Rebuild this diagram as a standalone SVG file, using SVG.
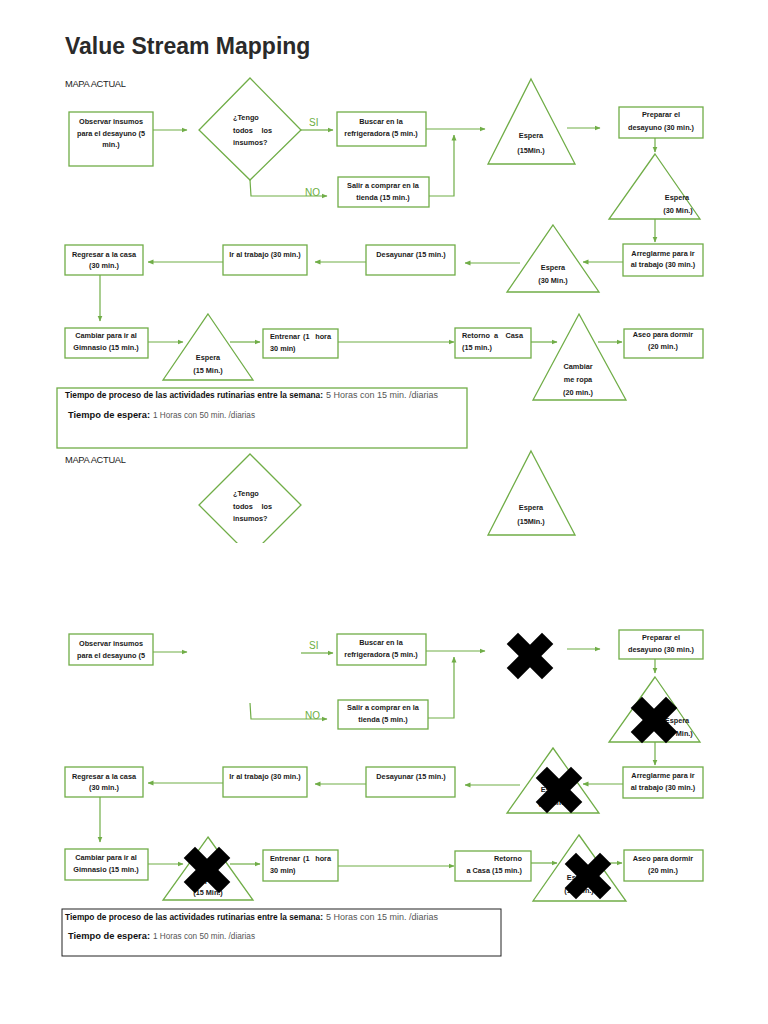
<svg xmlns="http://www.w3.org/2000/svg" width="768" height="1024" viewBox="0 0 768 1024">
<style>
.bg{fill:#fff}
.n{fill:#fff;stroke:#70AD47;stroke-width:1.3}
.c{fill:none;stroke:#70AD47;stroke-width:1.2}
.t{font-family:"Liberation Sans",Arial,sans-serif;font-size:7.3px;font-weight:bold;fill:#1a1a1a}
.m{text-anchor:middle}
.e{text-anchor:end}
.lbl{font-family:"Liberation Sans",Arial,sans-serif;font-size:10px;fill:#6aae3e}
.title{font-family:"Liberation Sans",Arial,sans-serif;font-size:23px;font-weight:bold;fill:#2a2a2a}
.h{font-family:"Liberation Sans",Arial,sans-serif;font-size:9.3px;fill:#222;letter-spacing:-0.3px}
.sb{font-family:"Liberation Sans",Arial,sans-serif;font-size:8.5px;font-weight:bold;fill:#111}
.sr{font-family:"Liberation Sans",Arial,sans-serif;font-size:8.5px;fill:#555}
</style>
<defs>
<marker id="ah" markerWidth="6" markerHeight="6" refX="5.5" refY="3" orient="auto" markerUnits="userSpaceOnUse">
<path d="M0,0.5 L6,3 L0,5.5 z" fill="#70AD47"/>
</marker>
<g id="xmark">
<rect x="-25" y="-8" width="50" height="16" transform="rotate(45)" fill="#000"/>
<rect x="-25" y="-8" width="50" height="16" transform="rotate(-45)" fill="#000"/>
</g>
<clipPath id="cut"><rect x="0" y="440" width="768" height="103"/></clipPath>
</defs>
<rect class="bg" x="0" y="0" width="768" height="1024"/>

<text class="title" x="65" y="54">Value Stream Mapping</text>
<text class="h" x="65" y="87">MAPA ACTUAL</text>

<!-- ===== TOP MAP ===== -->
<g id="connectors-top">
<line class="c" x1="153" y1="130" x2="187" y2="130" marker-end="url(#ah)"/>
<line class="c" x1="301" y1="130" x2="333" y2="130" marker-end="url(#ah)"/>
<polyline class="c" points="250,180 251,196 327,196" marker-end="url(#ah)"/>
<line class="c" x1="426" y1="129" x2="485" y2="129" marker-end="url(#ah)"/>
<polyline class="c" points="429,196 454,196 454,135" marker-end="url(#ah)"/>
<line class="c" x1="567" y1="128" x2="600" y2="128" marker-end="url(#ah)"/>
<line class="c" x1="655" y1="138" x2="655" y2="152" marker-end="url(#ah)"/>
<line class="c" x1="655" y1="219" x2="655" y2="242" marker-end="url(#ah)"/>
<line class="c" x1="623" y1="262" x2="583" y2="262" marker-end="url(#ah)"/>
<line class="c" x1="520" y1="263" x2="465" y2="263" marker-end="url(#ah)"/>
<line class="c" x1="366" y1="262" x2="315" y2="262" marker-end="url(#ah)"/>
<line class="c" x1="223" y1="262" x2="148" y2="262" marker-end="url(#ah)"/>
<line class="c" x1="100" y1="275" x2="100" y2="321" marker-end="url(#ah)"/>
<line class="c" x1="148" y1="342" x2="183" y2="342" marker-end="url(#ah)"/>
<line class="c" x1="230" y1="342" x2="260" y2="342" marker-end="url(#ah)"/>
<line class="c" x1="338" y1="342" x2="454" y2="342" marker-end="url(#ah)"/>
<line class="c" x1="531" y1="342" x2="557" y2="342" marker-end="url(#ah)"/>
<line class="c" x1="598" y1="342" x2="622" y2="342" marker-end="url(#ah)"/>
<text class="lbl" x="309" y="126">SI</text>
<text class="lbl" x="305" y="196">NO</text>
</g>

<g id="observar">
<rect class="n" x="69" y="112" width="84" height="54"/>
<text class="t m" x="111" y="124">Observar insumos</text>
<text class="t m" x="111" y="136">para el desayuno (5</text>
<text class="t m" x="111" y="147">min.)</text>
</g>
<g id="tengo">
<polygon class="n" points="250,78 301,130 250,180 199,130"/>
<text class="t" x="233" y="120">¿Tengo</text>
<text class="t" x="233" y="133">todos</text>
<text class="t e" x="272" y="133">los</text>
<text class="t" x="233" y="145">insumos?</text>
</g>
<g id="buscar">
<rect class="n" x="337" y="112" width="89" height="34"/>
<text class="t m" x="381" y="124">Buscar en la</text>
<text class="t m" x="381" y="136">refrigeradora (5 min.)</text>
</g>
<g id="salir">
<rect class="n" x="338" y="177" width="91" height="30"/>
<text class="t m" x="383" y="188">Salir a comprar en la</text>
<text class="t m" x="383" y="200">tienda (15 min.)</text>
</g>
<g id="espera1">
<polygon class="n" points="531,79 575,164 488,164"/>
<text class="t m" x="531" y="138">Espera</text>
<text class="t m" x="531" y="153">(15Min.)</text>
</g>
<g id="preparar">
<rect class="n" x="619" y="107" width="84" height="31"/>
<text class="t m" x="661" y="117">Preparar el</text>
<text class="t m" x="661" y="130">desayuno (30 min.)</text>
</g>
<g id="espera2">
<polygon class="n" points="655,154 700,219 609,219"/>
<text class="t m" x="677" y="200">Espera</text>
<text class="t m" x="678" y="213">(30 Min.)</text>
</g>
<g id="arreglarme">
<rect class="n" x="623" y="244" width="80" height="32"/>
<text class="t m" x="663" y="256">Arreglarme para ir</text>
<text class="t m" x="663" y="267">al trabajo (30 min.)</text>
</g>
<g id="espera3">
<polygon class="n" points="553,225 599,292 507,292"/>
<text class="t m" x="553" y="270">Espera</text>
<text class="t m" x="553" y="283">(30 Min.)</text>
</g>
<g id="desayunar">
<rect class="n" x="366" y="245" width="89" height="30"/>
<text class="t m" x="411" y="257">Desayunar (15 min.)</text>
</g>
<g id="irtrabajo">
<rect class="n" x="223" y="245" width="84" height="30"/>
<text class="t m" x="265" y="257">Ir al trabajo (30 min.)</text>
</g>
<g id="regresar">
<rect class="n" x="65" y="245" width="78" height="30"/>
<text class="t m" x="104" y="257">Regresar a la casa</text>
<text class="t m" x="104" y="268">(30 min.)</text>
</g>
<g id="cambiar">
<rect class="n" x="65" y="328" width="83" height="30"/>
<text class="t m" x="106" y="338">Cambiar para ir al</text>
<text class="t m" x="106" y="350">Gimnasio (15 min.)</text>
</g>
<g id="espera4">
<polygon class="n" points="208,314 253,380 163,380"/>
<text class="t m" x="208" y="360">Espera</text>
<text class="t m" x="208" y="373">(15 Min.)</text>
</g>
<g id="entrenar">
<rect class="n" x="263" y="329" width="75" height="29"/>
<text class="t" x="270" y="339">Entrenar</text>
<text class="t" x="303" y="339">(1</text>
<text class="t e" x="331" y="339">hora</text>
<text class="t" x="270" y="351">30 min)</text>
</g>
<g id="retorno">
<rect class="n" x="455" y="328" width="76" height="30"/>
<text class="t" x="462" y="338">Retorno</text>
<text class="t" x="494" y="338">a</text>
<text class="t e" x="523" y="338">Casa</text>
<text class="t" x="462" y="350">(15 min.)</text>
</g>
<g id="cambiarropa">
<polygon class="n" points="579,314 626,400 533,400"/>
<text class="t m" x="578" y="369">Cambiar</text>
<text class="t m" x="578" y="382">me ropa</text>
<text class="t m" x="578" y="395">(20 min.)</text>
</g>
<g id="aseo">
<rect class="n" x="624" y="329" width="79" height="29"/>
<text class="t m" x="663" y="337">Aseo para dormir</text>
<text class="t m" x="663" y="349">(20 min.)</text>
</g>
<g id="resumen-top">
<rect x="57" y="388" width="410" height="60" fill="#fff" stroke="#70AD47" stroke-width="1.3"/>
<text class="sb" x="65" y="398" textLength="258" lengthAdjust="spacingAndGlyphs">Tiempo de proceso de las actividades rutinarias entre la semana:</text>
<text class="sr" x="326" y="398" textLength="112" lengthAdjust="spacingAndGlyphs">5 Horas con 15 min. /diarias</text>
<text class="sb" x="68" y="418" textLength="82" lengthAdjust="spacingAndGlyphs">Tiempo de espera:</text>
<text class="sr" x="153" y="418" textLength="102" lengthAdjust="spacingAndGlyphs">1 Horas con 50 min. /diarias</text>
</g>

<!-- ===== SECOND (cut) MAP ===== -->
<text class="h" x="65" y="463">MAPA ACTUAL</text>
<g id="tengo2" clip-path="url(#cut)">
<polygon class="n" points="250,454 301,505 250,556 199,505"/>
<text class="t" x="233" y="496">¿Tengo</text>
<text class="t" x="233" y="509">todos</text>
<text class="t e" x="272" y="509">los</text>
<text class="t" x="233" y="521">insumos?</text>
</g>
<g id="espera1b">
<polygon class="n" points="531,451 575,535 488,535"/>
<text class="t m" x="531" y="510">Espera</text>
<text class="t m" x="531" y="524">(15Min.)</text>
</g>

<!-- ===== BOTTOM MAP (improved) ===== -->
<g transform="translate(0,522)">
<g id="connectors-bottom">
<line class="c" x1="153" y1="130" x2="187" y2="130" marker-end="url(#ah)"/>
<line class="c" x1="301" y1="131" x2="333" y2="131" marker-end="url(#ah)"/>
<polyline class="c" points="250,181 251,197 327,197" marker-end="url(#ah)"/>
<line class="c" x1="426" y1="129" x2="485" y2="129" marker-end="url(#ah)"/>
<polyline class="c" points="428,196 454,196 454,135" marker-end="url(#ah)"/>
<line class="c" x1="567" y1="127" x2="600" y2="127" marker-end="url(#ah)"/>
<line class="c" x1="655" y1="137" x2="655" y2="151" marker-end="url(#ah)"/>
<line class="c" x1="655" y1="220" x2="655" y2="243" marker-end="url(#ah)"/>
<line class="c" x1="623" y1="262" x2="583" y2="262" marker-end="url(#ah)"/>
<line class="c" x1="520" y1="263" x2="465" y2="263" marker-end="url(#ah)"/>
<line class="c" x1="366" y1="262" x2="315" y2="262" marker-end="url(#ah)"/>
<line class="c" x1="223" y1="261" x2="148" y2="261" marker-end="url(#ah)"/>
<line class="c" x1="100" y1="275" x2="100" y2="320" marker-end="url(#ah)"/>
<line class="c" x1="148" y1="342" x2="183" y2="342" marker-end="url(#ah)"/>
<line class="c" x1="230" y1="342" x2="260" y2="342" marker-end="url(#ah)"/>
<line class="c" x1="338" y1="344" x2="454" y2="344" marker-end="url(#ah)"/>
<line class="c" x1="531" y1="341" x2="557" y2="341" marker-end="url(#ah)"/>
<line class="c" x1="598" y1="341" x2="622" y2="341" marker-end="url(#ah)"/>
<text class="lbl" x="309" y="127">SI</text>
<text class="lbl" x="305" y="197">NO</text>
</g>
<g id="b-observar">
<rect class="n" x="69" y="112" width="84" height="31"/>
<text class="t m" x="111" y="124">Observar insumos</text>
<text class="t m" x="111" y="136">para el desayuno (5</text>
</g>
<g id="b-buscar">
<rect class="n" x="337" y="112" width="89" height="31"/>
<text class="t m" x="381" y="123">Buscar en la</text>
<text class="t m" x="381" y="135">refrigeradora (5 min.)</text>
</g>
<g id="b-salir">
<rect class="n" x="338" y="178" width="90" height="29"/>
<text class="t m" x="383" y="188">Salir a comprar en la</text>
<text class="t m" x="383" y="200">tienda (5 min.)</text>
</g>
<g id="b-espera1">
<use href="#xmark" x="530" y="134"/>
</g>
<g id="b-preparar">
<rect class="n" x="619" y="108" width="84" height="29"/>
<text class="t m" x="661" y="118">Preparar el</text>
<text class="t m" x="661" y="130">desayuno (30 min.)</text>
</g>
<g id="b-espera2">
<polygon class="n" points="655,155 700,220 609,220"/>
<text class="t m" x="677" y="201">Espera</text>
<text class="t m" x="678" y="214">(30 Min.)</text>
<use href="#xmark" x="654" y="198"/>
</g>
<g id="b-arreglarme">
<rect class="n" x="623" y="245" width="80" height="31"/>
<text class="t m" x="663" y="256">Arreglarme para ir</text>
<text class="t m" x="663" y="268">al trabajo (30 min.)</text>
</g>
<g id="b-espera3">
<polygon class="n" points="553,226 599,291 507,291"/>
<text class="t m" x="553" y="270">Espera</text>
<text class="t m" x="553" y="283">(30 Min.)</text>
<use href="#xmark" x="559" y="268"/>
</g>
<g id="b-desayunar">
<rect class="n" x="366" y="245" width="89" height="30"/>
<text class="t m" x="411" y="257">Desayunar (15 min.)</text>
</g>
<g id="b-irtrabajo">
<rect class="n" x="223" y="245" width="84" height="30"/>
<text class="t m" x="265" y="257">Ir al trabajo (30 min.)</text>
</g>
<g id="b-regresar">
<rect class="n" x="65" y="245" width="78" height="30"/>
<text class="t m" x="104" y="257">Regresar a la casa</text>
<text class="t m" x="104" y="268">(30 min.)</text>
</g>
<g id="b-cambiar">
<rect class="n" x="65" y="327" width="83" height="31"/>
<text class="t m" x="106" y="338">Cambiar para ir al</text>
<text class="t m" x="106" y="350">Gimnasio (15 min.)</text>
</g>
<g id="b-espera4">
<polygon class="n" points="208,315 253,378 163,378"/>
<text class="t m" x="208" y="360">Espera</text>
<text class="t m" x="208" y="373">(15 Min.)</text>
<use href="#xmark" x="207" y="348"/>
</g>
<g id="b-entrenar">
<rect class="n" x="263" y="328" width="75" height="31"/>
<text class="t" x="270" y="339">Entrenar</text>
<text class="t" x="303" y="339">(1</text>
<text class="t e" x="331" y="339">hora</text>
<text class="t" x="270" y="351">30 min)</text>
</g>
<g id="b-retorno">
<rect class="n" x="455" y="329" width="76" height="30"/>
<text class="t e" x="522" y="339">Retorno</text>
<text class="t e" x="522" y="351">a Casa (15 min.)</text>
</g>
<g id="b-espera5">
<polygon class="n" points="579,313 626,379 533,379"/>
<text class="t m" x="579" y="358">Espera</text>
<text class="t m" x="579" y="371">(15 Min.)</text>
<use href="#xmark" x="588" y="354"/>
</g>
<g id="b-aseo">
<rect class="n" x="624" y="328" width="79" height="31"/>
<text class="t m" x="663" y="339">Aseo para dormir</text>
<text class="t m" x="663" y="351">(20 min.)</text>
</g>
<g id="resumen-bottom">
<rect x="62" y="387" width="439" height="47" fill="#fff" stroke="#222" stroke-width="1"/>
<text class="sb" x="65" y="398" textLength="258" lengthAdjust="spacingAndGlyphs">Tiempo de proceso de las actividades rutinarias entre la semana:</text>
<text class="sr" x="326" y="398" textLength="112" lengthAdjust="spacingAndGlyphs">5 Horas con 15 min. /diarias</text>
<text class="sb" x="68" y="417" textLength="82" lengthAdjust="spacingAndGlyphs">Tiempo de espera:</text>
<text class="sr" x="153" y="417" textLength="102" lengthAdjust="spacingAndGlyphs">1 Horas con 50 min. /diarias</text>
</g>
</g>
</svg>
